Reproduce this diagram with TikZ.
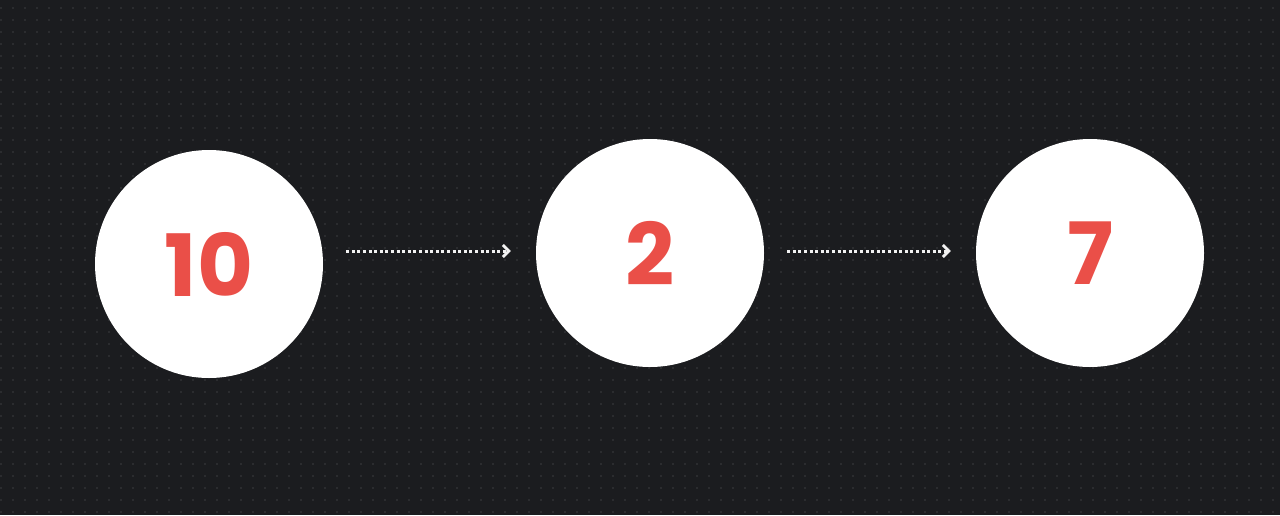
\documentclass[tikz,border=0pt]{standalone}
\usepackage{fontspec}
\setmainfont{Poppins}
\usetikzlibrary{arrows.meta}
\definecolor{bgc}{HTML}{1B1C1F}
\definecolor{dotc}{HTML}{2B2C2F}
\definecolor{numc}{HTML}{EA4F48}
\definecolor{arrc}{HTML}{F2F2F2}
\tikzset{
  numcircle/.style={circle, fill=white, minimum size=228pt, inner sep=0pt,
    text=numc, font=\fontsize{86}{86}\selectfont\bfseries},
  conn/.style={draw=arrc, line width=3pt, dash pattern=on 3pt off 2.6pt,
    -{Straight Barb[length=6pt,width=12pt,line width=2.8pt]}}
}
\begin{document}
\begin{tikzpicture}[x=1pt,y=-1pt]
\useasboundingbox (0,0) rectangle (1280,515);
\fill[bgc] (0,0) rectangle (1280,515);
\foreach \i in {0,...,106}{
  \foreach \j in {0,...,42}{
    \fill[dotc] (12*\i-0.5,12*\j+7) rectangle ++(2,2);
  }
}
\node[numcircle] (a) at (209,264) {10};
\node[numcircle] (b) at (650,253) {2};
\node[numcircle] (c) at (1090,253) {7};
\draw[conn] ([xshift=23pt,yshift=2pt]a.east |- b.center) -- ([xshift=-25pt,yshift=2pt]b.west);
\draw[conn] ([xshift=23pt,yshift=2pt]b.east) -- ([xshift=-25pt,yshift=2pt]c.west);
\end{tikzpicture}
\end{document}
